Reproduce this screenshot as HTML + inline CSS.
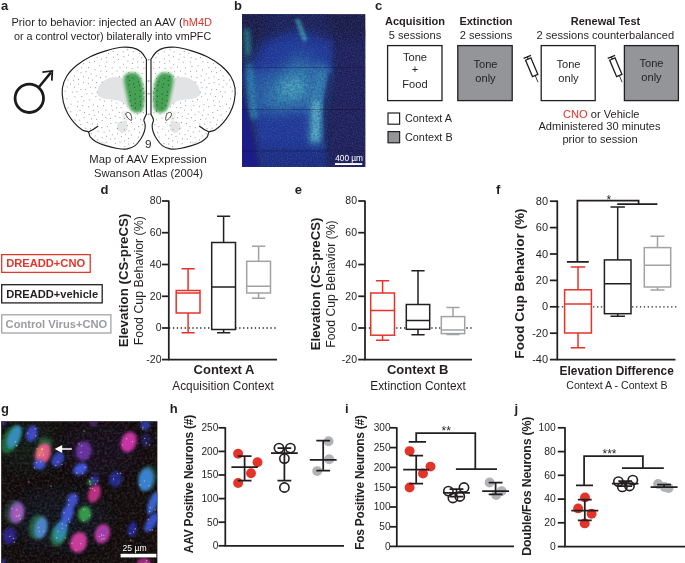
<!DOCTYPE html>
<html lang="en"><head><meta charset="utf-8"><title>Figure</title>
<style>
html,body{margin:0;padding:0;background:#fff;}
body{width:685px;height:563px;overflow:hidden;}
svg{display:block;font-family:"Liberation Sans",sans-serif;fill:#231f20;}
.b{font-weight:700}
.pl{font-weight:700;font-size:13px}
.t{font-size:11.1px}
.tk{font-size:10.5px;text-anchor:end}
.m{text-anchor:middle}
.ax{stroke:#231f20;stroke-width:1.75;fill:none}
.ln{stroke-width:1.5;fill:none}
</style></head><body>
<svg width="685" height="563" viewBox="0 0 685 563">
<defs>
<filter id="bl1" x="-30%" y="-30%" width="160%" height="160%"><feGaussianBlur stdDeviation="1.6"/></filter>
<filter id="bl2" x="-50%" y="-50%" width="200%" height="200%"><feGaussianBlur stdDeviation="2.2"/></filter>
<filter id="bl5" x="-50%" y="-50%" width="200%" height="200%"><feGaussianBlur stdDeviation="5"/></filter>
<filter id="bl8" x="-50%" y="-50%" width="200%" height="200%"><feGaussianBlur stdDeviation="8"/></filter>
<filter id="noiseB" x="0" y="0" width="100%" height="100%">
<feTurbulence type="fractalNoise" baseFrequency="0.8" numOctaves="2" seed="3" result="n"/>
<feColorMatrix in="n" type="matrix" values="0 0 0 0 0.3  0 0 0 0 0.48  0 0 0 0 0.9  0 0 0 2.2 -0.8"/>
<feGaussianBlur stdDeviation="0.35"/>
</filter>
<filter id="noiseB2" x="0" y="0" width="100%" height="100%">
<feTurbulence type="fractalNoise" baseFrequency="0.45" numOctaves="2" seed="11" result="n"/>
<feColorMatrix in="n" type="matrix" values="0 0 0 0 0.03  0 0 0 0 0.03  0 0 0 0 0.18  0 0 0 1.6 -0.55"/>
<feGaussianBlur stdDeviation="0.45"/>
</filter>
<filter id="noiseG" x="0" y="0" width="100%" height="100%">
<feTurbulence type="fractalNoise" baseFrequency="0.4" numOctaves="2" seed="8" result="n"/>
<feColorMatrix in="n" type="matrix" values="0 0 0 0 0.26  0 0 0 0 0.17  0 0 0 0 0.22  0 0 0 1.6 -0.62"/>
<feGaussianBlur stdDeviation="0.5"/>
</filter>
<clipPath id="clipB"><rect x="242" y="14.2" width="123.3" height="152.7"/></clipPath>
<clipPath id="clipG"><rect x="1.2" y="421.2" width="156.5" height="142"/></clipPath>
</defs>

<text class="pl" x="1" y="9.6">a</text>
<text class="pl" x="234" y="10">b</text>
<text class="pl" x="375" y="9.8">c</text>
<text class="pl" x="100.6" y="194">d</text>
<text class="pl" x="294.8" y="194.4">e</text>
<text class="pl" x="496" y="194.4">f</text>
<text class="pl" x="1" y="412.6">g</text>
<text class="pl" x="169.8" y="413">h</text>
<text class="pl" x="344.9" y="413">i</text>
<text class="pl" x="514.5" y="413">j</text>
<text class="t m" x="111.8" y="26" style="font-size:11.05px">Prior to behavior: injected an AAV (<tspan fill="#e6332a">hM4D</tspan></text>
<text class="t m" x="112.6" y="40" style="font-size:10.75px">or a control vector) bilaterally into vmPFC</text>
<g fill="none" stroke="#1a1a1a"><circle cx="29.3" cy="98.3" r="14.2" stroke-width="2.8"/><path d="M39.2 86.8L51 72.4" stroke-width="2.5"/><path d="M42.4 72.1L52.3 70.9L51.8 80.6" stroke-width="1.8" stroke-linejoin="miter"/></g>
<g><path d="M146.4 59.3C145.5 58.0 143.1 53.7 140.9 51.8C138.7 49.9 136.3 48.6 133.1 47.9C129.8 47.1 126.0 46.8 121.4 47.3C116.9 47.8 111.0 49.3 105.8 50.9C100.6 52.5 95.1 54.3 90.2 56.7C85.3 59.1 80.4 62.2 76.5 65.5C72.6 68.8 69.0 72.5 66.7 76.2C64.4 80.0 63.0 83.8 62.4 88.0C61.8 92.2 62.3 97.4 63.2 101.6C64.1 105.8 65.8 109.8 67.7 113.4C69.6 117.0 72.1 120.3 74.5 123.1C76.9 125.9 80.0 128.5 82.3 130.0C84.6 131.5 86.9 130.8 88.2 131.9C89.5 133.0 88.9 135.2 90.2 136.8C91.5 138.4 93.4 140.2 96.0 141.7C98.6 143.2 102.2 144.5 105.8 145.6C109.4 146.7 113.9 147.9 117.5 148.5C121.1 149.1 124.4 149.4 127.3 148.9C130.2 148.4 132.8 147.3 135.1 145.6C137.4 143.9 139.3 141.2 140.9 138.8C142.5 136.3 143.8 133.3 144.5 131.0C145.2 128.7 145.3 126.8 145.2 125.0C145.1 123.2 143.9 121.5 143.9 120.2C143.9 118.9 144.5 118.3 144.9 117.3C145.3 116.3 146.2 114.8 146.4 114.3Z" fill="#fff" stroke="none"/><path d="M97.0 92.5C97.4 91.3 98.4 87.4 99.5 85.5C100.6 83.6 102.1 82.2 103.8 81.0C105.5 79.8 107.5 78.7 109.5 78.0C111.5 77.3 113.8 77.1 115.5 77.0C117.2 76.9 118.7 77.0 120.0 77.3C121.3 77.6 122.8 77.5 123.6 79.0C124.4 80.5 124.3 83.4 124.8 86.0C125.3 88.6 125.9 91.8 126.6 94.5C127.3 97.2 128.1 99.8 128.8 102.0C129.5 104.2 130.2 106.0 130.6 107.5C131.0 109.0 131.8 111.0 131.4 110.8C131.0 110.6 129.3 107.8 128.0 106.5C126.7 105.2 125.1 104.0 123.4 103.0C121.7 102.0 119.9 101.2 118.0 100.6C116.1 100.0 114.0 99.7 112.0 99.4C110.0 99.1 107.8 99.3 106.0 99.0C104.2 98.7 102.4 98.1 101.0 97.4C99.6 96.7 98.3 95.8 97.6 95.0C96.9 94.2 97.1 92.9 97.0 92.5Z" fill="#e2e3e4"/><path d="M117.6 122.5L126.8 120.5L127.6 130L122 133.6L116.6 129Z" fill="#e4e5e6"/><path d="M121 112L127 110.5L128.5 120L123 121.5Z" fill="#f0f0f1"/><path d="M97 142.4C100 140.8 104 141.2 107 143.4C103.5 144.2 100 143.8 97 142.4Z" fill="#e6e7e8"/><path d="M123.8 77.5C124.2 76.9 125.2 74.6 126.5 73.8C127.8 73.0 129.8 72.5 131.5 72.4C133.2 72.3 135.5 72.5 137.0 73.4C138.5 74.3 139.6 75.7 140.6 77.6C141.6 79.5 142.4 82.3 143.0 85.0C143.6 87.7 143.8 91.0 144.0 94.0C144.2 97.0 144.1 100.4 143.9 103.0C143.7 105.6 143.7 108.0 143.0 109.5C142.3 111.0 141.1 111.7 139.8 112.2C138.5 112.7 136.4 112.8 135.0 112.6C133.6 112.4 132.5 111.6 131.6 110.8C130.7 110.0 130.5 109.3 129.8 107.5C129.1 105.7 128.3 102.7 127.6 100.0C126.9 97.3 126.4 94.2 125.8 91.5C125.2 88.8 124.5 85.8 124.2 83.5C123.9 81.2 123.9 78.5 123.8 77.5Z" fill="#379a46" filter="url(#bl1)" opacity="0.93"/><path d="M89.5 62.4h0M117.3 54.4h0M66.9 98.8h0M65.2 91.2h0M98.1 131.3h0M115.3 143.7h0M77.4 106.3h0M108.6 53.4h0M88.7 106.7h0M100.5 77.6h0M129.5 118.3h0M82.7 105.6h0M106.6 136.3h0M124.0 76.4h0M97.5 124.2h0M74.9 96.9h0M121.1 107.6h0M133.4 143.4h0M102.3 114.7h0M94.8 115.2h0M95.2 135.9h0M131.6 135.1h0M85.7 89.4h0M143.4 62.4h0M77.0 70.7h0M81.8 96.5h0M112.1 73.8h0M93.4 104.8h0M105.8 110.0h0M138.5 126.6h0M95.4 87.7h0M70.8 111.7h0M70.6 84.1h0M114.2 62.2h0M83.4 82.4h0M91.1 74.0h0M132.5 63.5h0M106.9 62.0h0M135.4 118.0h0M107.3 126.5h0M134.5 129.2h0M131.6 122.5h0M84.0 117.6h0M143.2 84.2h0M115.0 138.8h0M117.5 128.6h0M90.3 128.7h0M123.6 64.3h0M106.8 142.2h0M132.2 68.5h0M83.4 76.9h0M92.1 93.7h0M104.6 101.2h0M99.4 65.7h0M123.6 103.8h0M89.7 99.9h0M71.0 104.2h0M121.4 136.4h0M142.1 73.5h0M72.3 92.1h0M128.6 138.5h0M75.1 120.0h0M95.9 96.7h0M78.6 79.5h0M97.9 140.0h0M110.5 118.4h0M106.8 71.3h0M88.5 78.1h0M141.4 57.8h0M104.1 132.1h0M96.4 82.5h0M83.7 63.7h0M86.0 71.7h0M86.9 93.9h0M88.3 83.4h0M111.8 101.0h0M125.8 114.1h0M124.4 129.8h0M120.0 117.7h0M115.2 116.4h0M124.9 146.5h0M119.4 76.7h0M101.6 59.1h0M138.0 67.3h0M140.7 119.7h0M105.4 66.4h0M123.2 52.0h0M102.1 82.1h0M87.3 122.4h0M95.0 69.8h0M143.5 112.7h0M120.0 67.2h0M80.8 124.6h0M81.0 89.5h0M74.4 87.1h0M67.1 87.1h0M138.3 137.1h0M144.0 68.2h0M78.4 84.2h0M128.5 55.1h0M118.5 59.4h0M130.7 113.6h0M112.7 110.2h0M88.5 67.7h0M74.4 75.9h0M133.2 59.0h0M97.7 106.4h0M112.1 67.8h0M84.6 112.5h0M80.0 110.5h0M121.2 122.2h0M126.4 67.9h0M91.5 118.9h0M110.8 123.4h0M98.4 112.0h0M120.0 142.0h0M97.1 57.4h0M123.1 71.7h0M139.3 53.5h0M133.2 51.8h0M99.9 99.6h0M112.3 134.8h0M127.1 106.8h0M144.0 96.6h0M89.3 114.6h0M76.4 115.0h0M127.9 61.0h0M113.3 57.2h0M94.4 61.7h0M78.0 101.8h0M109.2 114.1h0M124.7 141.0h0M81.0 72.7h0M81.7 67.7h0M116.9 103.0h0M102.2 120.6h0M102.3 137.8h0M127.4 125.5h0M85.3 128.2h0M128.7 144.0h0M106.0 76.8h0M100.9 71.1h0M96.2 75.8h0M68.0 80.0h0M129.0 131.0h0M115.9 122.6h0M109.3 130.8h0M139.6 132.4h0M77.0 91.7h0M123.9 56.7h0M125.6 134.6h0M90.6 87.4h0M128.8 72.5h0M92.6 124.0h0M111.8 105.6h0M83.9 100.9h0M119.2 112.4h0M124.5 118.4h0M92.6 80.1h0M137.3 113.9h0M144.1 91.8h0M116.6 107.7h0M143.5 106.1h0M101.9 127.7h0M137.7 62.0h0M141.0 78.5h0M117.0 71.1h0M96.7 119.4h0M117.7 133.8h0M93.7 110.3h0M73.5 80.3h0M91.3 133.6h0M106.3 57.5h0M135.4 72.8h0M79.8 120.1h0M110.3 139.1h0M103.5 105.7h0M97.1 92.1h0M113.2 51.5h0M105.9 117.7h0M144.1 101.1h0M142.5 124.7h0M127.4 49.8h0M94.8 128.1h0M68.0 107.9h0" stroke="#5d5e60" stroke-width="0.78" stroke-linecap="round" fill="none"/><path d="M128.0 76.9h0M133.1 78.4h0M129.3 80.4h0M133.6 84.1h0M138.4 81.8h0M128.9 85.0h0M134.7 87.3h0M139.6 85.4h0M143.0 88.6h0M129.9 91.9h0M135.2 94.2h0M140.2 90.5h0M143.9 93.2h0M130.4 95.6h0M135.0 99.2h0M139.9 96.3h0M143.9 99.0h0M130.3 100.9h0M135.3 103.2h0M140.6 101.8h0M131.5 105.5h0M135.4 108.0h0M140.4 105.1h0M140.9 111.1h0" stroke="#0e2a12" stroke-width="0.9" stroke-linecap="round" fill="none"/><path d="M146.4 59.3C145.5 58.0 143.1 53.7 140.9 51.8C138.7 49.9 136.3 48.6 133.1 47.9C129.8 47.1 126.0 46.8 121.4 47.3C116.9 47.8 111.0 49.3 105.8 50.9C100.6 52.5 95.1 54.3 90.2 56.7C85.3 59.1 80.4 62.2 76.5 65.5C72.6 68.8 69.0 72.5 66.7 76.2C64.4 80.0 63.0 83.8 62.4 88.0C61.8 92.2 62.3 97.4 63.2 101.6C64.1 105.8 65.8 109.8 67.7 113.4C69.6 117.0 72.1 120.3 74.5 123.1C76.9 125.9 80.0 128.5 82.3 130.0C84.6 131.5 86.9 130.8 88.2 131.9C89.5 133.0 88.9 135.2 90.2 136.8C91.5 138.4 93.4 140.2 96.0 141.7C98.6 143.2 102.2 144.5 105.8 145.6C109.4 146.7 113.9 147.9 117.5 148.5C121.1 149.1 124.4 149.4 127.3 148.9C130.2 148.4 132.8 147.3 135.1 145.6C137.4 143.9 139.3 141.2 140.9 138.8C142.5 136.3 143.8 133.3 144.5 131.0C145.2 128.7 145.3 126.8 145.2 125.0C145.1 123.2 143.9 121.5 143.9 120.2C143.9 118.9 144.5 118.3 144.9 117.3C145.3 116.3 146.2 114.8 146.4 114.3Z" fill="none" stroke="#231f20" stroke-width="1.15" stroke-linejoin="round"/><path d="M88.2 131.9C91 130.8 95 128.6 98.2 126" fill="none" stroke="#231f20" stroke-width="1.1"/><path d="M126 113.4C127.2 111.6 130 112.2 131 115C131.8 117.6 132 119.8 131.4 120.4C130.2 120.6 125.2 116.4 126 113.4Z" fill="#fff" stroke="#231f20" stroke-width="0.8"/></g>
<g transform="translate(297.4 0) scale(-1 1)"><path d="M146.4 59.3C145.5 58.0 143.1 53.7 140.9 51.8C138.7 49.9 136.3 48.6 133.1 47.9C129.8 47.1 126.0 46.8 121.4 47.3C116.9 47.8 111.0 49.3 105.8 50.9C100.6 52.5 95.1 54.3 90.2 56.7C85.3 59.1 80.4 62.2 76.5 65.5C72.6 68.8 69.0 72.5 66.7 76.2C64.4 80.0 63.0 83.8 62.4 88.0C61.8 92.2 62.3 97.4 63.2 101.6C64.1 105.8 65.8 109.8 67.7 113.4C69.6 117.0 72.1 120.3 74.5 123.1C76.9 125.9 80.0 128.5 82.3 130.0C84.6 131.5 86.9 130.8 88.2 131.9C89.5 133.0 88.9 135.2 90.2 136.8C91.5 138.4 93.4 140.2 96.0 141.7C98.6 143.2 102.2 144.5 105.8 145.6C109.4 146.7 113.9 147.9 117.5 148.5C121.1 149.1 124.4 149.4 127.3 148.9C130.2 148.4 132.8 147.3 135.1 145.6C137.4 143.9 139.3 141.2 140.9 138.8C142.5 136.3 143.8 133.3 144.5 131.0C145.2 128.7 145.3 126.8 145.2 125.0C145.1 123.2 143.9 121.5 143.9 120.2C143.9 118.9 144.5 118.3 144.9 117.3C145.3 116.3 146.2 114.8 146.4 114.3Z" fill="#fff" stroke="none"/><path d="M97.0 92.5C97.4 91.3 98.4 87.4 99.5 85.5C100.6 83.6 102.1 82.2 103.8 81.0C105.5 79.8 107.5 78.7 109.5 78.0C111.5 77.3 113.8 77.1 115.5 77.0C117.2 76.9 118.7 77.0 120.0 77.3C121.3 77.6 122.8 77.5 123.6 79.0C124.4 80.5 124.3 83.4 124.8 86.0C125.3 88.6 125.9 91.8 126.6 94.5C127.3 97.2 128.1 99.8 128.8 102.0C129.5 104.2 130.2 106.0 130.6 107.5C131.0 109.0 131.8 111.0 131.4 110.8C131.0 110.6 129.3 107.8 128.0 106.5C126.7 105.2 125.1 104.0 123.4 103.0C121.7 102.0 119.9 101.2 118.0 100.6C116.1 100.0 114.0 99.7 112.0 99.4C110.0 99.1 107.8 99.3 106.0 99.0C104.2 98.7 102.4 98.1 101.0 97.4C99.6 96.7 98.3 95.8 97.6 95.0C96.9 94.2 97.1 92.9 97.0 92.5Z" fill="#e2e3e4"/><path d="M117.6 122.5L126.8 120.5L127.6 130L122 133.6L116.6 129Z" fill="#e4e5e6"/><path d="M121 112L127 110.5L128.5 120L123 121.5Z" fill="#f0f0f1"/><path d="M97 142.4C100 140.8 104 141.2 107 143.4C103.5 144.2 100 143.8 97 142.4Z" fill="#e6e7e8"/><path d="M123.8 77.5C124.2 76.9 125.2 74.6 126.5 73.8C127.8 73.0 129.8 72.5 131.5 72.4C133.2 72.3 135.5 72.5 137.0 73.4C138.5 74.3 139.6 75.7 140.6 77.6C141.6 79.5 142.4 82.3 143.0 85.0C143.6 87.7 143.8 91.0 144.0 94.0C144.2 97.0 144.1 100.4 143.9 103.0C143.7 105.6 143.7 108.0 143.0 109.5C142.3 111.0 141.1 111.7 139.8 112.2C138.5 112.7 136.4 112.8 135.0 112.6C133.6 112.4 132.5 111.6 131.6 110.8C130.7 110.0 130.5 109.3 129.8 107.5C129.1 105.7 128.3 102.7 127.6 100.0C126.9 97.3 126.4 94.2 125.8 91.5C125.2 88.8 124.5 85.8 124.2 83.5C123.9 81.2 123.9 78.5 123.8 77.5Z" fill="#379a46" filter="url(#bl1)" opacity="0.93"/><path d="M89.5 62.4h0M117.3 54.4h0M66.9 98.8h0M65.2 91.2h0M98.1 131.3h0M115.3 143.7h0M77.4 106.3h0M108.6 53.4h0M88.7 106.7h0M100.5 77.6h0M129.5 118.3h0M82.7 105.6h0M106.6 136.3h0M124.0 76.4h0M97.5 124.2h0M74.9 96.9h0M121.1 107.6h0M133.4 143.4h0M102.3 114.7h0M94.8 115.2h0M95.2 135.9h0M131.6 135.1h0M85.7 89.4h0M143.4 62.4h0M77.0 70.7h0M81.8 96.5h0M112.1 73.8h0M93.4 104.8h0M105.8 110.0h0M138.5 126.6h0M95.4 87.7h0M70.8 111.7h0M70.6 84.1h0M114.2 62.2h0M83.4 82.4h0M91.1 74.0h0M132.5 63.5h0M106.9 62.0h0M135.4 118.0h0M107.3 126.5h0M134.5 129.2h0M131.6 122.5h0M84.0 117.6h0M143.2 84.2h0M115.0 138.8h0M117.5 128.6h0M90.3 128.7h0M123.6 64.3h0M106.8 142.2h0M132.2 68.5h0M83.4 76.9h0M92.1 93.7h0M104.6 101.2h0M99.4 65.7h0M123.6 103.8h0M89.7 99.9h0M71.0 104.2h0M121.4 136.4h0M142.1 73.5h0M72.3 92.1h0M128.6 138.5h0M75.1 120.0h0M95.9 96.7h0M78.6 79.5h0M97.9 140.0h0M110.5 118.4h0M106.8 71.3h0M88.5 78.1h0M141.4 57.8h0M104.1 132.1h0M96.4 82.5h0M83.7 63.7h0M86.0 71.7h0M86.9 93.9h0M88.3 83.4h0M111.8 101.0h0M125.8 114.1h0M124.4 129.8h0M120.0 117.7h0M115.2 116.4h0M124.9 146.5h0M119.4 76.7h0M101.6 59.1h0M138.0 67.3h0M140.7 119.7h0M105.4 66.4h0M123.2 52.0h0M102.1 82.1h0M87.3 122.4h0M95.0 69.8h0M143.5 112.7h0M120.0 67.2h0M80.8 124.6h0M81.0 89.5h0M74.4 87.1h0M67.1 87.1h0M138.3 137.1h0M144.0 68.2h0M78.4 84.2h0M128.5 55.1h0M118.5 59.4h0M130.7 113.6h0M112.7 110.2h0M88.5 67.7h0M74.4 75.9h0M133.2 59.0h0M97.7 106.4h0M112.1 67.8h0M84.6 112.5h0M80.0 110.5h0M121.2 122.2h0M126.4 67.9h0M91.5 118.9h0M110.8 123.4h0M98.4 112.0h0M120.0 142.0h0M97.1 57.4h0M123.1 71.7h0M139.3 53.5h0M133.2 51.8h0M99.9 99.6h0M112.3 134.8h0M127.1 106.8h0M144.0 96.6h0M89.3 114.6h0M76.4 115.0h0M127.9 61.0h0M113.3 57.2h0M94.4 61.7h0M78.0 101.8h0M109.2 114.1h0M124.7 141.0h0M81.0 72.7h0M81.7 67.7h0M116.9 103.0h0M102.2 120.6h0M102.3 137.8h0M127.4 125.5h0M85.3 128.2h0M128.7 144.0h0M106.0 76.8h0M100.9 71.1h0M96.2 75.8h0M68.0 80.0h0M129.0 131.0h0M115.9 122.6h0M109.3 130.8h0M139.6 132.4h0M77.0 91.7h0M123.9 56.7h0M125.6 134.6h0M90.6 87.4h0M128.8 72.5h0M92.6 124.0h0M111.8 105.6h0M83.9 100.9h0M119.2 112.4h0M124.5 118.4h0M92.6 80.1h0M137.3 113.9h0M144.1 91.8h0M116.6 107.7h0M143.5 106.1h0M101.9 127.7h0M137.7 62.0h0M141.0 78.5h0M117.0 71.1h0M96.7 119.4h0M117.7 133.8h0M93.7 110.3h0M73.5 80.3h0M91.3 133.6h0M106.3 57.5h0M135.4 72.8h0M79.8 120.1h0M110.3 139.1h0M103.5 105.7h0M97.1 92.1h0M113.2 51.5h0M105.9 117.7h0M144.1 101.1h0M142.5 124.7h0M127.4 49.8h0M94.8 128.1h0M68.0 107.9h0" stroke="#5d5e60" stroke-width="0.78" stroke-linecap="round" fill="none"/><path d="M128.0 76.9h0M133.1 78.4h0M129.3 80.4h0M133.6 84.1h0M138.4 81.8h0M128.9 85.0h0M134.7 87.3h0M139.6 85.4h0M143.0 88.6h0M129.9 91.9h0M135.2 94.2h0M140.2 90.5h0M143.9 93.2h0M130.4 95.6h0M135.0 99.2h0M139.9 96.3h0M143.9 99.0h0M130.3 100.9h0M135.3 103.2h0M140.6 101.8h0M131.5 105.5h0M135.4 108.0h0M140.4 105.1h0M140.9 111.1h0" stroke="#0e2a12" stroke-width="0.9" stroke-linecap="round" fill="none"/><path d="M146.4 59.3C145.5 58.0 143.1 53.7 140.9 51.8C138.7 49.9 136.3 48.6 133.1 47.9C129.8 47.1 126.0 46.8 121.4 47.3C116.9 47.8 111.0 49.3 105.8 50.9C100.6 52.5 95.1 54.3 90.2 56.7C85.3 59.1 80.4 62.2 76.5 65.5C72.6 68.8 69.0 72.5 66.7 76.2C64.4 80.0 63.0 83.8 62.4 88.0C61.8 92.2 62.3 97.4 63.2 101.6C64.1 105.8 65.8 109.8 67.7 113.4C69.6 117.0 72.1 120.3 74.5 123.1C76.9 125.9 80.0 128.5 82.3 130.0C84.6 131.5 86.9 130.8 88.2 131.9C89.5 133.0 88.9 135.2 90.2 136.8C91.5 138.4 93.4 140.2 96.0 141.7C98.6 143.2 102.2 144.5 105.8 145.6C109.4 146.7 113.9 147.9 117.5 148.5C121.1 149.1 124.4 149.4 127.3 148.9C130.2 148.4 132.8 147.3 135.1 145.6C137.4 143.9 139.3 141.2 140.9 138.8C142.5 136.3 143.8 133.3 144.5 131.0C145.2 128.7 145.3 126.8 145.2 125.0C145.1 123.2 143.9 121.5 143.9 120.2C143.9 118.9 144.5 118.3 144.9 117.3C145.3 116.3 146.2 114.8 146.4 114.3Z" fill="none" stroke="#231f20" stroke-width="1.15" stroke-linejoin="round"/><path d="M88.2 131.9C91 130.8 95 128.6 98.2 126" fill="none" stroke="#231f20" stroke-width="1.1"/><path d="M126 113.4C127.2 111.6 130 112.2 131 115C131.8 117.6 132 119.8 131.4 120.4C130.2 120.6 125.2 116.4 126 113.4Z" fill="#fff" stroke="#231f20" stroke-width="0.8"/></g>
<path d="M146.4 59.8H151M146.4 81H151M146.4 93.8H151M146.4 114.2H151" stroke="#231f20" stroke-width="0.7" stroke-dasharray="0.9 0.7" fill="none"/>
<text class="t m" x="148.3" y="148.3" style="font-size:11.7px">9</text>
<text class="t m" x="148" y="163.1" style="font-size:11.25px">Map of AAV Expression</text>
<text class="t m" x="148.5" y="177.1" style="font-size:11.2px">Swanson Atlas (2004)</text>
<g clip-path="url(#clipB)"><rect x="242" y="14.2" width="123.3" height="152.7" fill="#15173c"/><path d="M256 8L326 8L334 40L334 68L327 105L325 170L260 170L250 112L243 64L248 30Z" fill="#1c389a" filter="url(#bl5)"/><path d="M246 72L326 64L321 112L251 112Z" fill="#2664aa" opacity="0.7" filter="url(#bl5)"/><path d="M300 52L316 70L308 104L268 112L262 92L284 72Z" fill="#34a0b8" opacity="0.62" filter="url(#bl8)"/><ellipse cx="293" cy="88" rx="13" ry="11" fill="#5cccd0" opacity="0.45" filter="url(#bl5)"/><path d="M245 60L252 62L258 118L250 120Z" fill="#2c98b0" opacity="0.7" filter="url(#bl2)"/><path d="M321 62L330 72L323 104L322 146L310 146L309 104Z" fill="#40b0c0" opacity="0.62" filter="url(#bl5)"/><path d="M313 100L320.5 102L319.5 142L310.5 142Z" fill="#6cdcd4" opacity="0.6" filter="url(#bl2)"/><path d="M256 148H328V172H260Z" fill="#16267a" opacity="0.7" filter="url(#bl5)"/><path d="M337 30L372 30V172H329L331 120L334 90Z" fill="#1a1e55" opacity="0.95" filter="url(#bl1)"/><path d="M230 0H376V36L326 40L300 30L268 40L230 52Z" fill="#17183e" opacity="0.78" filter="url(#bl5)"/><path d="M230 0H272L264 40L254 62L230 70Z" fill="#14153a" opacity="0.75" filter="url(#bl5)"/><path d="M331 74C328 90 325 100 325.5 110C326 120 327 128 327 142" stroke="#0c1038" stroke-width="2.6" fill="none" opacity="0.85" filter="url(#bl1)"/><path d="M243.5 28L250 30L251 52L245.5 60Z" fill="#249088" opacity="0.8" filter="url(#bl2)"/><path d="M295 19L299.5 19L307.5 40L303 42Z" fill="#38a8ac" opacity="0.85" filter="url(#bl1)"/><rect x="242" y="14.2" width="123.3" height="152.7" filter="url(#noiseB)" opacity="0.2"/><rect x="242" y="14.2" width="123.3" height="152.7" filter="url(#noiseB2)" opacity="0.6"/><path d="M240 96L244 100L249 122L254 146L259 168H240Z" fill="#1a1c88" filter="url(#bl1)"/><path d="M242 67.5H366M242 109.5H366M242 151H366" stroke="#080a28" stroke-width="1.2" opacity="0.3" fill="none"/></g><rect x="335" y="163.1" width="27.2" height="1.9" fill="#fff"/><text x="349.1" y="160.9" class="m" style="font-size:8.3px" fill="#fff">400 µm</text>
<text class="t b m" x="415" y="25" style="font-size:11px">Acquisition</text>
<text class="t m" x="415" y="38.5">5 sessions</text>
<text class="t b m" x="486" y="25" style="font-size:11px">Extinction</text>
<text class="t m" x="486" y="38.5">2 sessions</text>
<text class="t b m" x="605.5" y="25" style="font-size:11px">Renewal Test</text>
<text class="t m" x="605.3" y="38.5">2 sessions counterbalanced</text>
<rect x="387.6" y="45.6" width="54.4" height="55" fill="#fff" stroke="#231f20" stroke-width="1.3"/>
<rect x="457.8" y="45.6" width="54.4" height="55" fill="#939598" stroke="#231f20" stroke-width="1.3"/>
<rect x="541.2" y="45.6" width="54" height="55" fill="#fff" stroke="#231f20" stroke-width="1.3"/>
<rect x="624.4" y="45.6" width="54" height="55" fill="#939598" stroke="#231f20" stroke-width="1.3"/>
<text class="t m" x="415" y="61">Tone</text><text class="t m" x="415" y="73.4">+</text><text class="t m" x="415" y="88">Food</text>
<text class="t m" x="485.5" y="68">Tone</text><text class="t m" x="485.5" y="81.8">only</text>
<text class="t m" x="568.5" y="68">Tone</text><text class="t m" x="568.5" y="81.8">only</text>
<text class="t m" x="651.5" y="67.3">Tone</text><text class="t m" x="651.5" y="81">only</text>
<rect x="388" y="113" width="11.6" height="11.2" fill="#fff" stroke="#231f20" stroke-width="1.2"/>
<rect x="388" y="131.6" width="11.6" height="11.2" fill="#939598" stroke="#231f20" stroke-width="1.2"/>
<text class="t" x="405" y="122.2" style="font-size:10.85px">Context A</text>
<text class="t" x="405" y="141" style="font-size:10.85px">Context B</text>
<g transform="translate(527.3 56.9) rotate(-23)" fill="#fff" stroke="#231f20" stroke-width="1.3"><path d="M-4 0H4M0 0V2.4" /><rect x="-2.9" y="2.4" width="5.8" height="17.8"/><path d="M0 20.2V27.5" stroke-width="0.8"/></g>
<g transform="translate(611.4 56.9) rotate(-23)" fill="#fff" stroke="#231f20" stroke-width="1.3"><path d="M-4 0H4M0 0V2.4" /><rect x="-2.9" y="2.4" width="5.8" height="17.8"/><path d="M0 20.2V27.5" stroke-width="0.8"/></g>
<text class="t m" x="601.3" y="117.6"><tspan fill="#e6332a">CNO</tspan> or Vehicle</text>
<text class="t m" x="599.5" y="129.8">Administered 30 minutes</text>
<text class="t m" x="600" y="143.1">prior to session</text>
<rect x="1.7" y="254.6" width="88.5" height="17.8" fill="#fff" stroke="#e0392c" stroke-width="1.3"/>
<text class="b" x="6.2" y="267.2" style="font-size:11.15px" fill="#e6332a">DREADD+CNO</text>
<rect x="1.7" y="284.7" width="100.5" height="18.2" fill="#fff" stroke="#231f20" stroke-width="1.3"/>
<text class="b" x="6.2" y="297.7" style="font-size:11.15px">DREADD+vehicle</text>
<rect x="1.7" y="314.8" width="109.2" height="18.2" fill="#fff" stroke="#a3a4a6" stroke-width="1.3"/>
<text class="b" x="5.6" y="328.2" style="font-size:11.15px" fill="#9b9c9e">Control Virus+CNO</text>
<path d="M169 328H277" stroke="#231f20" stroke-width="1.3" stroke-dasharray="1.3 2.6" fill="none"/>
<path class="ax" d="M168.8 200.4V359.6H277"/><path class="ax" d="M162.0 201H168.8"/><text class="tk" x="161.5" y="204.2">80</text><path class="ax" d="M162.0 232.7H168.8"/><text class="tk" x="161.5" y="235.89999999999998">60</text><path class="ax" d="M162.0 264.5H168.8"/><text class="tk" x="161.5" y="267.7">40</text><path class="ax" d="M162.0 296.3H168.8"/><text class="tk" x="161.5" y="299.5">20</text><path class="ax" d="M162.0 328H168.8"/><text class="tk" x="161.5" y="331.2">0</text><path class="ax" d="M162.0 359.6H168.8"/><text class="tk" x="161.5" y="362.8">-20</text>
<g class="ln" stroke="#e6332a"><rect x="176.2" y="290.5" width="23.8" height="22.5" fill="#fff"/><path d="M176.2 293H200.0M188.1 290.5V268.8M181.5 268.8H194.7M188.1 313V332.8M181.5 332.8H194.7"/></g>
<g class="ln" stroke="#231f20"><rect x="211.7" y="242.5" width="23.8" height="87.0" fill="#fff"/><path d="M211.7 287H235.5M223.6 242.5V216.3M217.0 216.3H230.2M223.6 329.5V332.8M217.0 332.8H230.2"/></g>
<g class="ln" stroke="#a1a2a4"><rect x="246.70000000000002" y="261.3" width="23.8" height="31.69999999999999" fill="#fff"/><path d="M246.70000000000002 286.3H270.5M258.6 261.3V246.3M252.00000000000003 246.3H265.20000000000005M258.6 293V298.3M252.00000000000003 298.3H265.20000000000005"/></g>
<text class="b m" transform="translate(127.9 280.5) rotate(-90)" style="font-size:13.3px;letter-spacing:0px">Elevation (CS-preCS)</text>
<text class=" m" transform="translate(143.2 280.7) rotate(-90)" style="font-size:12.35px;letter-spacing:0px">Food Cup Behavior (%)</text>
<text class="b m" x="224" y="374.4" style="font-size:13px">Context A</text>
<text class="m" x="223" y="389.6" style="font-size:11.85px">Acquisition Context</text>
<path d="M365 328H472" stroke="#231f20" stroke-width="1.3" stroke-dasharray="1.3 2.6" fill="none"/>
<path class="ax" d="M365 200.4V359.6H472"/><path class="ax" d="M358.2 201H365"/><text class="tk" x="357" y="204.2">80</text><path class="ax" d="M358.2 232.7H365"/><text class="tk" x="357" y="235.89999999999998">60</text><path class="ax" d="M358.2 264.5H365"/><text class="tk" x="357" y="267.7">40</text><path class="ax" d="M358.2 296.3H365"/><text class="tk" x="357" y="299.5">20</text><path class="ax" d="M358.2 328H365"/><text class="tk" x="357" y="331.2">0</text><path class="ax" d="M358.2 359.6H365"/><text class="tk" x="357" y="362.8">-20</text>
<g class="ln" stroke="#e6332a"><rect x="370.70000000000005" y="293" width="23.8" height="42.19999999999999" fill="#fff"/><path d="M370.70000000000005 310.5H394.5M382.6 293V280.8M376.0 280.8H389.20000000000005M382.6 335.2V340.3M376.0 340.3H389.20000000000005"/></g>
<g class="ln" stroke="#231f20"><rect x="406.3" y="304.5" width="23.4" height="24.80000000000001" fill="#fff"/><path d="M406.3 320.5H429.7M418 304.5V270.8M411.4 270.8H424.6M418 329.3V334.8M411.4 334.8H424.6"/></g>
<g class="ln" stroke="#a1a2a4"><rect x="441.3" y="316.6" width="23.4" height="17.0" fill="#fff"/><path d="M441.3 330H464.7M453 316.6V307.6M446.4 307.6H459.6M453 333.6V334.6M446.4 334.6H459.6"/></g>
<text class="b m" transform="translate(320 283.9) rotate(-90)" style="font-size:13.2px;letter-spacing:0px">Elevation (CS-preCS)</text>
<text class=" m" transform="translate(335 284) rotate(-90)" style="font-size:12.2px;letter-spacing:0px">Food Cup Behavior (%)</text>
<text class="b m" x="417.6" y="374.4" style="font-size:13px">Context B</text>
<text class="m" x="418" y="389.6" style="font-size:11.85px">Extinction Context</text>
<path d="M558 306.8H677" stroke="#231f20" stroke-width="1.3" stroke-dasharray="1.3 2.6" fill="none"/>
<path class="ax" d="M557.3 200.6V359.6H675.5"/><path class="ax" d="M549.9 201.2H557.3"/><text class="tk" x="548.1" y="204.82999999999998" style="font-size:11px">80</text><path class="ax" d="M549.9 227.6H557.3"/><text class="tk" x="548.1" y="231.23" style="font-size:11px">60</text><path class="ax" d="M549.9 254H557.3"/><text class="tk" x="548.1" y="257.63" style="font-size:11px">40</text><path class="ax" d="M549.9 280.4H557.3"/><text class="tk" x="548.1" y="284.03" style="font-size:11px">20</text><path class="ax" d="M549.9 306.8H557.3"/><text class="tk" x="548.1" y="310.43" style="font-size:11px">0</text><path class="ax" d="M549.9 333.2H557.3"/><text class="tk" x="548.1" y="336.83" style="font-size:11px">-20</text><path class="ax" d="M549.9 359.6H557.3"/><text class="tk" x="548.1" y="363.23" style="font-size:11px">-40</text>
<g class="ln" stroke="#e6332a"><rect x="564.6" y="289.8" width="26.8" height="43.19999999999999" fill="#fff"/><path d="M564.6 304H591.4M578 289.8V267M570.8 267H585.2M578 333V347.7M570.8 347.7H585.2"/></g>
<g class="ln" stroke="#231f20"><rect x="604.4000000000001" y="259.9" width="26.6" height="53.80000000000001" fill="#fff"/><path d="M604.4000000000001 283.8H631.0M617.7 259.9V207M610.5 207H624.9000000000001M617.7 313.7V316.2M610.5 316.2H624.9000000000001"/></g>
<g class="ln" stroke="#a1a2a4"><rect x="644.3" y="247.6" width="26.4" height="39.400000000000006" fill="#fff"/><path d="M644.3 265.3H670.7M657.5 247.6V236.2M650.5 236.2H664.5M657.5 287V290M650.5 290H664.5"/></g>
<path class="ax" d="M566.9 261.9H588.8M577.4 261.9V200.7H638.6V204M617.2 204H657.4" stroke-width="1.2"/>
<text class="m" x="608.8" y="204.4" style="font-size:12px">*</text>
<text class="b m" transform="translate(523.7 283.5) rotate(-90)" style="font-size:13.6px;letter-spacing:0px">Food Cup Behavior (%)</text>
<text class="b m" x="616.7" y="374.5" style="font-size:11.9px">Elevation Difference</text>
<text class="m" x="616.9" y="388.6" style="font-size:10.6px">Context A - Context B</text>
<g clip-path="url(#clipG)"><rect x="1" y="421" width="156.5" height="142" fill="#100b0b"/><ellipse cx="30" cy="445" rx="30" ry="24" fill="#0e2418" opacity="0.6" filter="url(#bl8)"/><ellipse cx="100" cy="450" rx="40" ry="25" fill="#161024" opacity="0.7" filter="url(#bl8)"/><ellipse cx="60" cy="520" rx="50" ry="30" fill="#0e1420" opacity="0.7" filter="url(#bl8)"/><ellipse cx="10.5" cy="440" rx="8" ry="15" transform="rotate(25 10.5 440)" fill="#1f9a48" opacity="0.6" filter="url(#bl1)"/><ellipse cx="45" cy="443" rx="7" ry="6" transform="rotate(10 45 443)" fill="#2a8a4a" opacity="0.5" filter="url(#bl1)"/><ellipse cx="37" cy="527" rx="8" ry="12.5" transform="rotate(12 37 527)" fill="#2a9a50" opacity="0.55" filter="url(#bl1)"/><ellipse cx="58" cy="535.5" rx="7.5" ry="11" transform="rotate(15 58 535.5)" fill="#2a9a50" opacity="0.6" filter="url(#bl1)"/><ellipse cx="12.5" cy="512" rx="8.5" ry="12" transform="rotate(10 12.5 512)" fill="#2a7a48" opacity="0.35" filter="url(#bl1)"/><ellipse cx="148" cy="478" rx="9" ry="13" transform="rotate(10 148 478)" fill="#2a9060" opacity="0.4" filter="url(#bl1)"/><ellipse cx="14.2" cy="437" rx="6" ry="12.5" transform="rotate(25 14.2 437)" fill="#3292c4" opacity="0.95" filter="url(#bl1)"/><ellipse cx="31.8" cy="433.8" rx="5.5" ry="8.2" transform="rotate(15 31.8 433.8)" fill="#3a48d4" opacity="0.95" filter="url(#bl1)"/><ellipse cx="43" cy="453.6" rx="7.6" ry="10.8" transform="rotate(20 43 453.6)" fill="#ea5c8c" opacity="0.97" filter="url(#bl1)"/><ellipse cx="40.5" cy="452" rx="3" ry="5" transform="rotate(20 40.5 452)" fill="#ee8a58" opacity="0.7" filter="url(#bl1)"/><ellipse cx="39.4" cy="464.7" rx="6" ry="5" transform="rotate(10 39.4 464.7)" fill="#3c52dc" opacity="0.95" filter="url(#bl1)"/><ellipse cx="57.7" cy="459.6" rx="5.5" ry="8" transform="rotate(30 57.7 459.6)" fill="#3242c4" opacity="0.95" filter="url(#bl1)"/><ellipse cx="80.4" cy="469" rx="7.6" ry="5.6" transform="rotate(-30 80.4 469)" fill="#3c56e4" opacity="0.97" filter="url(#bl1)"/><ellipse cx="83.6" cy="451" rx="8" ry="10" transform="rotate(10 83.6 451)" fill="#6c32ac" opacity="0.92" filter="url(#bl1)"/><ellipse cx="128.6" cy="442" rx="7.6" ry="10.5" transform="rotate(20 128.6 442)" fill="#d232ac" opacity="0.97" filter="url(#bl1)"/><ellipse cx="115.5" cy="479.3" rx="6.5" ry="8" transform="rotate(10 115.5 479.3)" fill="#242c96" opacity="0.9" filter="url(#bl1)"/><ellipse cx="146" cy="479.5" rx="7.5" ry="11.5" transform="rotate(10 146 479.5)" fill="#3486dc" opacity="0.97" filter="url(#bl1)"/><ellipse cx="145.4" cy="425.3" rx="5" ry="5" transform="rotate(0 145.4 425.3)" fill="#2a3aac" opacity="0.9" filter="url(#bl1)"/><ellipse cx="146" cy="440" rx="5" ry="7" transform="rotate(0 146 440)" fill="#1c1e64" opacity="0.8" filter="url(#bl1)"/><ellipse cx="153" cy="503" rx="4.6" ry="12" transform="rotate(20 153 503)" fill="#3468d8" opacity="0.95" filter="url(#bl1)"/><ellipse cx="151.4" cy="522.5" rx="4.8" ry="11" transform="rotate(32 151.4 522.5)" fill="#3452dc" opacity="0.95" filter="url(#bl1)"/><ellipse cx="94.3" cy="493.5" rx="6" ry="9.5" transform="rotate(20 94.3 493.5)" fill="#c62e88" opacity="0.97" filter="url(#bl1)"/><ellipse cx="94.3" cy="480.8" rx="4" ry="4" transform="rotate(0 94.3 480.8)" fill="#2a3ab4" opacity="0.85" filter="url(#bl1)"/><ellipse cx="90" cy="482.5" rx="3" ry="3.5" transform="rotate(0 90 482.5)" fill="#2a8a48" opacity="0.7" filter="url(#bl1)"/><ellipse cx="72.6" cy="500" rx="5.4" ry="7" transform="rotate(15 72.6 500)" fill="#3c50d8" opacity="0.97" filter="url(#bl1)"/><ellipse cx="67.5" cy="514" rx="5.6" ry="11" transform="rotate(18 67.5 514)" fill="#3c56dc" opacity="0.97" filter="url(#bl1)"/><ellipse cx="60.2" cy="532" rx="6.4" ry="10.5" transform="rotate(18 60.2 532)" fill="#2a92a8" opacity="0.95" filter="url(#bl1)"/><ellipse cx="62.5" cy="526" rx="5" ry="6" transform="rotate(15 62.5 526)" fill="#3470d4" opacity="0.85" filter="url(#bl1)"/><ellipse cx="84.7" cy="514" rx="6.6" ry="8" transform="rotate(10 84.7 514)" fill="#32a44a" opacity="0.95" filter="url(#bl1)"/><ellipse cx="16.8" cy="512.6" rx="7.6" ry="11" transform="rotate(10 16.8 512.6)" fill="#8a58c0" opacity="0.97" filter="url(#bl1)"/><ellipse cx="17.5" cy="513" rx="4.5" ry="7" transform="rotate(10 17.5 513)" fill="#b860b4" opacity="0.7" filter="url(#bl1)"/><ellipse cx="40.9" cy="528" rx="6.6" ry="11" transform="rotate(12 40.9 528)" fill="#4a88d4" opacity="0.95" filter="url(#bl1)"/><ellipse cx="78.6" cy="542.4" rx="8.4" ry="10.6" transform="rotate(18 78.6 542.4)" fill="#d43aa0" opacity="0.97" filter="url(#bl1)"/><ellipse cx="102.3" cy="533.8" rx="7.4" ry="10" transform="rotate(18 102.3 533.8)" fill="#c23aa8" opacity="0.97" filter="url(#bl1)"/><ellipse cx="102.5" cy="533" rx="3.5" ry="5" transform="rotate(18 102.5 533)" fill="#7a3cc0" opacity="0.6" filter="url(#bl1)"/><ellipse cx="9.5" cy="536" rx="6.6" ry="8.6" transform="rotate(10 9.5 536)" fill="#2a2294" opacity="0.92" filter="url(#bl1)"/><ellipse cx="132.3" cy="529.4" rx="4.4" ry="7.6" transform="rotate(10 132.3 529.4)" fill="#2228a0" opacity="0.92" filter="url(#bl1)"/><ellipse cx="144" cy="563" rx="7" ry="5" transform="rotate(0 144 563)" fill="#b02c90" opacity="0.9" filter="url(#bl1)"/><ellipse cx="3" cy="423" rx="3" ry="3" transform="rotate(0 3 423)" fill="#2a2c90" opacity="0.8" filter="url(#bl1)"/><ellipse cx="93.4" cy="423" rx="4" ry="3" transform="rotate(0 93.4 423)" fill="#5a2c90" opacity="0.7" filter="url(#bl1)"/><ellipse cx="3" cy="561.5" rx="3" ry="3" transform="rotate(0 3 561.5)" fill="#2a2c90" opacity="0.8" filter="url(#bl1)"/><ellipse cx="95" cy="476" rx="5" ry="5" transform="rotate(0 95 476)" fill="#2a2c90" opacity="0.3" filter="url(#bl1)"/><path d="M15.4 441.8h0M17.0 445.8h0M16.5 445.4h0M27.7 433.3h0M35.7 435.8h0M35.3 428.7h0M42.6 449.2h0M43.5 454.9h0M37.1 448.7h0M39.4 455.3h0M41.8 449.3h0M41.9 449.1h0M40.5 461.7h0M34.6 467.7h0M36.6 462.4h0M61.9 464.4h0M55.8 465.5h0M58.0 461.9h0M76.8 473.0h0M82.7 473.2h0M85.2 467.2h0M81.8 445.7h0M79.1 444.0h0M81.1 452.6h0M122.6 445.0h0M126.6 438.8h0M132.5 441.7h0M113.6 479.1h0M117.6 473.6h0M120.4 473.2h0M149.0 485.8h0M140.2 484.8h0M144.4 480.9h0M141.5 421.7h0M142.8 428.9h0M143.0 427.3h0M149.4 445.0h0M144.8 438.4h0M146.2 443.1h0M150.1 507.8h0M155.2 509.9h0M149.6 511.6h0M148.3 519.7h0M152.3 529.9h0M150.2 530.0h0M94.7 490.6h0M92.5 488.6h0M90.3 488.2h0M95.5 484.0h0M92.1 477.9h0M97.4 481.0h0M89.5 481.0h0M90.5 484.3h0M89.8 482.1h0M68.8 504.7h0M68.6 499.9h0M75.5 495.9h0M69.6 521.9h0M68.7 519.1h0M64.0 512.8h0M56.6 537.8h0M58.1 531.2h0M65.3 537.9h0M66.3 525.6h0M62.4 528.2h0M62.3 524.0h0M83.7 509.5h0M83.4 520.3h0M89.6 515.6h0M16.8 509.8h0M11.8 508.6h0M20.2 519.1h0M16.5 516.2h0M19.5 515.2h0M18.7 515.9h0M39.5 531.6h0M38.6 527.7h0M43.7 531.4h0M75.8 550.0h0M80.6 543.8h0M72.0 543.2h0M99.3 536.5h0M101.9 538.9h0M104.0 538.6h0M101.6 534.2h0M103.8 535.6h0M101.7 535.7h0M13.4 538.6h0M14.5 542.3h0M9.7 536.4h0M129.9 533.5h0M135.4 529.1h0M133.6 532.1h0M146.6 560.4h0M147.1 563.6h0M145.9 562.4h0" stroke="#f4e4f4" stroke-width="1.5" stroke-linecap="round" opacity="0.55" fill="none"/><path d="M130.8 540.4h0M84 431h0M51 486h0M29 482h0" stroke="#e8a060" stroke-width="1.6" stroke-linecap="round" opacity="0.7" fill="none"/><rect x="1" y="421" width="156.5" height="142" filter="url(#noiseG)" opacity="0.38"/></g><path d="M71.8 449H60" stroke="#fff" stroke-width="1.5" fill="none"/><path d="M54.7 449L62.2 445V453Z" fill="#fff"/><rect x="120.6" y="553.8" width="35.8" height="3.6" fill="#fff"/><text x="122.6" y="550.6" style="font-size:8.6px" fill="#fff">25 µm</text>
<path class="ax" d="M225.3 427.2V545.8H344"/><path class="ax" d="M218.5 427.8H225.3"/><text class="tk" x="218.3" y="431.13300000000004" style="font-size:10.1px">250</text><path class="ax" d="M218.5 451.4H225.3"/><text class="tk" x="218.3" y="454.733" style="font-size:10.1px">200</text><path class="ax" d="M218.5 475H225.3"/><text class="tk" x="218.3" y="478.333" style="font-size:10.1px">150</text><path class="ax" d="M218.5 498.6H225.3"/><text class="tk" x="218.3" y="501.93300000000005" style="font-size:10.1px">100</text><path class="ax" d="M218.5 522.2H225.3"/><text class="tk" x="218.3" y="525.533" style="font-size:10.1px">50</text><path class="ax" d="M218.5 545.8H225.3"/><text class="tk" x="218.3" y="549.1329999999999" style="font-size:10.1px">0</text>
<circle cx="238.1" cy="453.8" r="4.95" fill="#e6332a"/><circle cx="257.5" cy="462.2" r="4.95" fill="#e6332a"/><circle cx="251" cy="473.2" r="4.95" fill="#e6332a"/><circle cx="238.1" cy="483" r="4.95" fill="#e6332a"/>
<path class="ax" d="M231.4 467.2H257.8M244.6 456.2V480.7M237.7 456.2H251.5M237.7 480.7H251.5"/>
<circle cx="279" cy="448.1" r="4.65" fill="none" stroke="#231f20" stroke-width="1.6"/><circle cx="290.4" cy="448.1" r="4.65" fill="none" stroke="#231f20" stroke-width="1.6"/><circle cx="284.4" cy="458.6" r="4.65" fill="none" stroke="#231f20" stroke-width="1.6"/><circle cx="284.4" cy="487.5" r="4.65" fill="none" stroke="#231f20" stroke-width="1.6"/>
<path class="ax" d="M271.0 453.2H297.79999999999995M284.4 448.1V480.7M277.5 448.1H291.29999999999995M277.5 480.7H291.29999999999995"/>
<circle cx="328.6" cy="441.3" r="4.95" fill="#b1b3b6"/><circle cx="329.2" cy="459.2" r="4.95" fill="#b1b3b6"/><circle cx="317.2" cy="471.1" r="4.95" fill="#b1b3b6"/>
<path class="ax" d="M309.8 459.8H336.59999999999997M323.2 440.7V470.5M316.3 440.7H330.09999999999997M316.3 470.5H330.09999999999997"/>
<text class="b m" transform="translate(192.8 484.1) rotate(-90)" style="font-size:11.96px;letter-spacing:-0.21px">AAV Positive Neurons (#)</text>
<path class="ax" d="M396.8 427.2V546.4H514"/><path class="ax" d="M390.0 427.8H396.8"/><text class="tk" x="390.5" y="431.13300000000004" style="font-size:10.1px">300</text><path class="ax" d="M390.0 447.6H396.8"/><text class="tk" x="390.5" y="450.93300000000005" style="font-size:10.1px">250</text><path class="ax" d="M390.0 467.4H396.8"/><text class="tk" x="390.5" y="470.733" style="font-size:10.1px">200</text><path class="ax" d="M390.0 487.2H396.8"/><text class="tk" x="390.5" y="490.533" style="font-size:10.1px">150</text><path class="ax" d="M390.0 507H396.8"/><text class="tk" x="390.5" y="510.333" style="font-size:10.1px">100</text><path class="ax" d="M390.0 526.8H396.8"/><text class="tk" x="390.5" y="530.1329999999999" style="font-size:10.1px">50</text><path class="ax" d="M390.0 546.4H396.8"/><text class="tk" x="390.5" y="549.733" style="font-size:10.1px">0</text>
<circle cx="409.6" cy="451.1" r="4.95" fill="#e6332a"/><circle cx="430.5" cy="466.6" r="4.95" fill="#e6332a"/><circle cx="423" cy="473.5" r="4.95" fill="#e6332a"/><circle cx="409.6" cy="487.5" r="4.95" fill="#e6332a"/>
<path class="ax" d="M403.2 469.6H429.2M416.2 455.6V483.7M409.3 455.6H423.09999999999997M409.3 483.7H423.09999999999997"/>
<circle cx="448.4" cy="491.1" r="4.65" fill="none" stroke="#231f20" stroke-width="1.6"/><circle cx="464" cy="487.5" r="4.65" fill="none" stroke="#231f20" stroke-width="1.6"/><circle cx="452.9" cy="498" r="4.65" fill="none" stroke="#231f20" stroke-width="1.6"/><circle cx="459.8" cy="496.5" r="4.65" fill="none" stroke="#231f20" stroke-width="1.6"/>
<path class="ax" d="M443.0 492.9H470.0M456.5 489V496.5M449.6 489H463.4M449.6 496.5H463.4"/>
<circle cx="489.6" cy="482.5" r="4.95" fill="#b1b3b6"/><circle cx="501.6" cy="491.1" r="4.95" fill="#b1b3b6"/><circle cx="496.2" cy="495" r="4.95" fill="#b1b3b6"/>
<path class="ax" d="M482.20000000000005 491.1H509.0M495.6 482.5V494.4M488.70000000000005 482.5H502.5M488.70000000000005 494.4H502.5"/>
<path class="ax" d="M408.7 441.9H426M416.2 441.9V433.2H475.3V469M455.9 469H497" stroke-width="1.2"/>
<text class="m" x="446.2" y="434.5" style="font-size:12px">**</text>
<text class="b m" transform="translate(363.6 482.5) rotate(-90)" style="font-size:11.92px;letter-spacing:-0.21px">Fos Positive Neurons (#)</text>
<path class="ax" d="M565.0 427.2V546.6H686"/><path class="ax" d="M557.8 427.8H565.0"/><text class="tk" x="555.8" y="431.199" style="font-size:10.3px">100</text><path class="ax" d="M557.8 451.6H565.0"/><text class="tk" x="555.8" y="454.999" style="font-size:10.3px">80</text><path class="ax" d="M557.8 475.3H565.0"/><text class="tk" x="555.8" y="478.699" style="font-size:10.3px">60</text><path class="ax" d="M557.8 499.1H565.0"/><text class="tk" x="555.8" y="502.499" style="font-size:10.3px">40</text><path class="ax" d="M557.8 522.8H565.0"/><text class="tk" x="555.8" y="526.199" style="font-size:10.3px">20</text><path class="ax" d="M557.8 546.6H565.0"/><text class="tk" x="555.8" y="549.999" style="font-size:10.3px">0</text>
<circle cx="585" cy="497.4" r="4.95" fill="#e6332a"/><circle cx="578.1" cy="508.4" r="4.95" fill="#e6332a"/><circle cx="591.6" cy="513.8" r="4.95" fill="#e6332a"/><circle cx="584.7" cy="523.4" r="4.95" fill="#e6332a"/>
<path class="ax" d="M571.3 510.5H598.3M584.8 499.5V520.4M577.9 499.5H591.6999999999999M577.9 520.4H591.6999999999999"/>
<circle cx="618.4" cy="481.6" r="4.65" fill="none" stroke="#231f20" stroke-width="1.6"/><circle cx="632.8" cy="480.1" r="4.65" fill="none" stroke="#231f20" stroke-width="1.6"/><circle cx="622.3" cy="486.9" r="4.65" fill="none" stroke="#231f20" stroke-width="1.6"/><circle cx="629.5" cy="486" r="4.65" fill="none" stroke="#231f20" stroke-width="1.6"/>
<path class="ax" d="M611.9000000000001 483.7H638.5M625.2 481V486M618.3000000000001 481H632.1M618.3000000000001 486H632.1"/>
<circle cx="658.1" cy="484" r="4.95" fill="#b1b3b6"/><circle cx="668.6" cy="488.1" r="4.95" fill="#b1b3b6"/><circle cx="664.7" cy="487" r="4.95" fill="#b1b3b6"/>
<path class="ax" d="M650.6 487H677.6M664.1 484.5V487M657.2 484.5H671.0M657.2 487H671.0"/>
<path class="ax" d="M576 485.4H593M584.1 485.4V456.2H642.9V468.1M622 468.1H663.8" stroke-width="1.2"/>
<text class="m" x="609.5" y="457.6" style="font-size:12px">***</text>
<text class="b m" transform="translate(531.1 486.3) rotate(-90)" style="font-size:12.36px;letter-spacing:-0.21px">Double/Fos Neurons (%)</text>
</svg></body></html>
